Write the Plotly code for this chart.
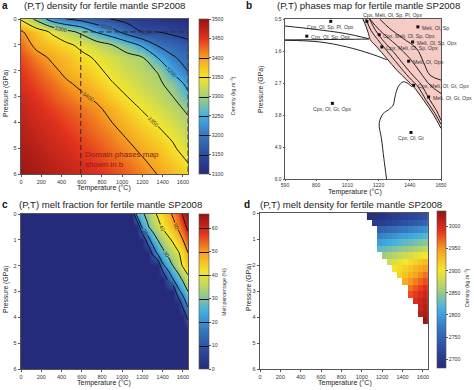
import plotly.graph_objects as go

W, H = 474, 390

# ---------------- DATA ----------------
# Panel a: bulk density (kg/m3) on a (P,T) grid
T_a = [0, 150, 300, 450, 600, 750, 900, 1050, 1200, 1350, 1500, 1650]
P_a = [0, 0.5, 1, 1.5, 2, 2.5, 3, 3.5, 4, 4.5, 5, 5.5, 6]
rho_a = [
    [3345, 3290, 3230, 3200, 3185, 3165, 3148, 3135, 3125, 3115, 3108, 3102],
    [3405, 3375, 3345, 3315, 3290, 3245, 3220, 3180, 3150, 3150, 3140, 3130],
    [3425, 3390, 3375, 3358, 3340, 3320, 3300, 3275, 3240, 3195, 3180, 3165],
    [3440, 3415, 3395, 3380, 3360, 3345, 3330, 3315, 3303, 3250, 3205, 3185],
    [3450, 3430, 3410, 3390, 3375, 3357, 3340, 3325, 3312, 3298, 3240, 3198],
    [3455, 3440, 3425, 3405, 3392, 3372, 3352, 3338, 3322, 3308, 3285, 3235],
    [3465, 3450, 3435, 3420, 3405, 3393, 3368, 3350, 3335, 3318, 3300, 3262],
    [3470, 3458, 3445, 3432, 3420, 3406, 3390, 3365, 3348, 3332, 3315, 3293],
    [3475, 3465, 3455, 3442, 3430, 3416, 3400, 3382, 3362, 3346, 3328, 3308],
    [3480, 3470, 3460, 3450, 3438, 3425, 3412, 3396, 3378, 3360, 3343, 3318],
    [3485, 3477, 3467, 3458, 3447, 3435, 3422, 3408, 3392, 3375, 3356, 3330],
    [3490, 3482, 3473, 3465, 3455, 3444, 3432, 3420, 3404, 3388, 3370, 3348],
    [3495, 3488, 3480, 3472, 3463, 3452, 3442, 3430, 3415, 3399, 3382, 3362],
]
rho_a_levels = [3150, 3400, 50]
domain_T = [590, 1650]
domain_P = [0.5, 6.0]

# Panel b: phase boundaries (T in C, P in GPa)
solidus_T = [1119, 1140, 1157, 1169, 1214, 1282, 1350, 1418, 1464, 1532, 1600, 1650]
solidus_P = [0.5, 0.75, 1.0, 1.21, 1.46, 1.86, 2.26, 2.60, 2.83, 3.29, 3.80, 4.26]
plag_T = [590, 800, 1000, 1160]
plag_P = [0.74, 0.86, 1.0, 1.18]
spl_T = [590, 800, 1000, 1160]
spl_P = [1.22, 1.21, 1.20, 1.19]
spgt_T = [590, 828, 1010, 1169, 1282]
spgt_P = [1.23, 1.29, 1.46, 1.69, 1.90]
melt2_T = [1140, 1175, 1220, 1300, 1380, 1450, 1490, 1550, 1610, 1650]
melt2_P = [0.5, 0.9, 1.21, 1.7, 2.2, 2.6, 2.8, 3.3, 3.75, 4.12]
melt3_T = [1165, 1200, 1250, 1330, 1410, 1470, 1515, 1570, 1620, 1650]
melt3_P = [0.5, 0.85, 1.2, 1.65, 2.15, 2.5, 2.75, 3.25, 3.65, 3.98]
cpxout_T = [1166, 1234, 1348, 1439, 1507, 1575, 1650]
cpxout_P = [0.5, 0.89, 1.40, 1.86, 2.32, 2.77, 3.06]
opxout_T = [1234, 1302, 1393, 1485, 1530, 1575, 1650]
opxout_P = [0.5, 0.83, 1.17, 1.52, 1.97, 2.43, 2.60]
gtin_T = [1280, 1262, 1245, 1230, 1257, 1291, 1325, 1337, 1359, 1393, 1427, 1450]
gtin_P = [6.0, 5.3, 4.6, 4.09, 3.75, 3.63, 3.46, 3.18, 2.83, 2.66, 2.72, 2.83]
phase_names = ["Cpx, Ol, Sp, Pl, Opx", "Cpx, Ol, Sp, Opx", "Cpx, Ol, Gt, Opx", "Cpx, Ol, Gt",
               "Cpx, Melt, Ol, Sp, Pl, Opx", "Melt, Ol, Sp", "Cpx, Melt, Ol, Sp, Opx",
               "Melt, Ol, Sp, Opx", "Cpx, Melt, Ol, Sp, Opx", "Melt, Ol, Opx",
               "Cpx, Melt, Ol, Gt, Opx", "Melt, Ol, Gt, Opx"]
phase_T = [901, 738, 912, 1446, 1146, 1493, 1230, 1457, 1248, 1430, 1464, 1566]
phase_P = [0.58, 1.09, 3.40, 4.40, 0.58, 0.77, 1.04, 1.29, 1.46, 1.95, 2.78, 3.18]

# Panel c: melt fraction (%)
T_c = [0, 1000, 1050, 1100, 1150, 1200, 1250, 1300, 1350, 1400, 1450, 1500, 1550, 1600, 1650]
P_c = [0, 0.5, 1, 1.5, 2, 2.5, 3, 3.5, 4, 4.5, 5, 5.5, 6]
melt_c = [
    [0, 0, 0, 0, 26, 29, 32, 37, 41, 44, 47, 51, 55, 61, 66],
    [0, 0, 0, 0, 0, 22, 29, 33, 37, 41, 44, 47, 51, 56, 62],
    [0, 0, 0, 0, 0, 0, 15, 25, 30, 34, 38, 41, 45, 50, 56],
    [0, 0, 0, 0, 0, 0, 0, 12, 22, 28, 32, 36, 39, 43, 50],
    [0, 0, 0, 0, 0, 0, 0, 0, 0, 18, 24, 30, 35, 41, 45],
    [0, 0, 0, 0, 0, 0, 0, 0, 0, 0, 12, 20, 26, 32, 38],
    [0, 0, 0, 0, 0, 0, 0, 0, 0, 0, 0, 0, 17, 23, 30],
    [0, 0, 0, 0, 0, 0, 0, 0, 0, 0, 0, 0, 0, 14, 22],
    [0, 0, 0, 0, 0, 0, 0, 0, 0, 0, 0, 0, 0, 0, 13],
    [0, 0, 0, 0, 0, 0, 0, 0, 0, 0, 0, 0, 0, 0, 0],
    [0, 0, 0, 0, 0, 0, 0, 0, 0, 0, 0, 0, 0, 0, 0],
    [0, 0, 0, 0, 0, 0, 0, 0, 0, 0, 0, 0, 0, 0, 0],
    [0, 0, 0, 0, 0, 0, 0, 0, 0, 0, 0, 0, 0, 0, 0],
]
melt_levels = [10, 60, 10]

# Panel d: melt density (kg/m3), None where no melt
T_d = [1075, 1125, 1175, 1225, 1275, 1325, 1375, 1425, 1475, 1525, 1575, 1625]
P_d = [0.125, 0.375, 0.625, 0.875, 1.125, 1.375, 1.625, 1.875, 2.125, 2.375,
       2.625, 2.875, 3.125, 3.375, 3.625, 3.875, 4.125]
N = None
rho_d = [
    [2685, 2688, 2692, 2696, 2700, 2704, 2708, 2712, 2716, 2720, 2724, 2728],
    [N, 2700, 2705, 2710, 2715, 2720, 2725, 2730, 2735, 2740, 2745, 2750],
    [N, N, 2745, 2750, 2755, 2760, 2765, 2770, 2775, 2780, 2785, 2790],
    [N, N, 2775, 2780, 2785, 2790, 2795, 2800, 2805, 2810, 2815, 2820],
    [N, N, 2800, 2805, 2810, 2815, 2820, 2825, 2830, 2835, 2840, 2845],
    [N, N, 2825, 2830, 2835, 2840, 2845, 2850, 2855, 2860, 2865, 2870],
    [N, N, N, 2855, 2860, 2866, 2872, 2878, 2884, 2890, 2896, 2902],
    [N, N, N, N, 2880, 2887, 2894, 2901, 2908, 2915, 2922, 2930],
    [N, N, N, N, N, 2900, 2908, 2916, 2924, 2932, 2940, 2948],
    [N, N, N, N, N, N, 2915, 2925, 2935, 2945, 2955, 2965],
    [N, N, N, N, N, N, N, 2940, 2950, 2960, 2970, 2980],
    [N, N, N, N, N, N, N, N, 2965, 2975, 2985, 2995],
    [N, N, N, N, N, N, N, N, 2980, 2988, 2996, 3004],
    [N, N, N, N, N, N, N, N, N, 2995, 3003, 3011],
    [N, N, N, N, N, N, N, N, N, N, 3008, 3016],
    [N, N, N, N, N, N, N, N, N, N, 3015, 3022],
    [N, N, N, N, N, N, N, N, N, N, N, 3030],
]

T_ticks = [0, 200, 400, 600, 800, 1000, 1200, 1400, 1600]
P_ticks = [0, 1, 2, 3, 4, 5, 6]
b_T_ticks = [590, 802, 1014, 1226, 1438, 1650]
b_T_text = ["590", "800", "1010", "1220", "1440", "1650"]
b_P_ticks = [0.5, 1.6, 2.7, 3.8, 4.9, 6.0]
b_P_text = ["0.5", "1.6", "2.7", "3.8", "4.9", "6.0"]

# ---------------- STYLE ----------------
CS = [[0.0, "#262a7a"], [0.125, "#2d4b9f"], [0.25, "#3677bf"], [0.375, "#43b0e2"],
      [0.5, "#a8cf78"], [0.625, "#f4e62a"], [0.75, "#f7a11f"], [0.875, "#e2321e"],
      [1.0, "#931313"]]
FT = "Liberation Sans, Arial, sans-serif"


def xd(a, b):
    return [a / W, b / W]


def yd(top, bot):
    return [1 - bot / H, 1 - top / H]


def cbar(x0, top, bot, tickvals, thick=10):
    return dict(
        x=x0 / W, xanchor="left", xpad=0, ypad=0,
        y=1 - bot / H, yanchor="bottom", len=(bot - top) / H, lenmode="fraction",
        thickness=thick, thicknessmode="pixels", outlinewidth=0.6, outlinecolor="#555",
        tickvals=tickvals, ticks="outside", ticklen=2, tickcolor="#555",
        tickfont=dict(family=FT, size=5.2, color="#333"),
    )


fig = go.Figure()

# Panel a
fig.add_trace(go.Contour(
    x=T_a, y=P_a, z=rho_a, colorscale=CS, zmin=3100, zmax=3500,
    contours=dict(coloring="heatmap", start=rho_a_levels[0], end=rho_a_levels[1],
                  size=rho_a_levels[2], showlabels=True,
                  labelfont=dict(family=FT, size=5.5, color="#333")),
    line=dict(color="#111", width=1),
    colorbar=cbar(199, 19, 174, list(range(3100, 3501, 50))),
    xaxis="x", yaxis="y", hoverinfo="skip"))
fig.add_trace(go.Scatter(
    x=[domain_T[0], domain_T[0], domain_T[1], domain_T[1]],
    y=[domain_P[1], domain_P[0], domain_P[0], domain_P[1]],
    mode="lines", line=dict(color="#3a2a2a", width=1, dash="5px,3px"),
    xaxis="x", yaxis="y", showlegend=False, hoverinfo="skip"))

# Panel b
fig.add_trace(go.Scatter(
    x=solidus_T + [domain_T[1], domain_T[1]],
    y=solidus_P + [domain_P[0], domain_P[0]],
    fill="toself", fillcolor="#f6cbc6", mode="none",
    xaxis="x2", yaxis="y2", showlegend=False, hoverinfo="skip"))
for tx, py in [(solidus_T, solidus_P), (plag_T, plag_P), (spl_T, spl_P), (spgt_T, spgt_P),
               (melt2_T, melt2_P), (melt3_T, melt3_P), (cpxout_T, cpxout_P),
               (opxout_T, opxout_P), (gtin_T, gtin_P)]:
    fig.add_trace(go.Scatter(x=tx, y=py, mode="lines", line=dict(color="#222", width=1, shape="spline"),
                             xaxis="x2", yaxis="y2", showlegend=False, hoverinfo="skip"))
fig.add_trace(go.Scatter(x=phase_T, y=phase_P, mode="markers",
                         marker=dict(symbol="square", size=3, color="#111"),
                         xaxis="x2", yaxis="y2", showlegend=False, hoverinfo="skip"))

# Panel c
fig.add_trace(go.Contour(
    x=T_c, y=P_c, z=melt_c, colorscale=CS, zmin=0, zmax=66,
    contours=dict(coloring="heatmap", start=melt_levels[0], end=melt_levels[1],
                  size=melt_levels[2], showlabels=True,
                  labelfont=dict(family=FT, size=5.5, color="#333")),
    line=dict(color="#111", width=1),
    colorbar=cbar(199, 214, 369, list(range(0, 61, 10))),
    xaxis="x3", yaxis="y3", hoverinfo="skip"))

# Panel d
fig.add_trace(go.Heatmap(
    x=T_d, y=P_d, z=rho_d, colorscale=CS, zmin=2680, zmax=3035,
    colorbar=cbar(437, 211, 368, list(range(2700, 3001, 50)), thick=9),
    xaxis="x4", yaxis="y4", hoverinfo="skip"))


def ax(dom, anchor, rng, tv, tt=None, fs=5.5, tl=2.5):
    d = dict(domain=dom, anchor=anchor, range=rng, tickvals=tv, automargin=False,
             showline=True, mirror=True, linecolor="#555", linewidth=0.8,
             ticks="outside", ticklen=tl, tickcolor="#555", showgrid=False, zeroline=False,
             tickfont=dict(family=FT, size=fs, color="#333"))
    if tt:
        d["ticktext"] = tt
    return d


fig.update_layout(
    width=W, height=H, margin=dict(l=0, r=0, t=0, b=0, autoexpand=False),
    paper_bgcolor="white", plot_bgcolor="white", showlegend=False,
    xaxis=ax(xd(21, 188), "y", [0, 1650], T_ticks),
    yaxis=ax(yd(19, 174), "x", [6, 0], P_ticks),
    xaxis2=ax(xd(285, 441), "y2", [590, 1650], b_T_ticks, b_T_text, fs=5, tl=1.5),
    yaxis2=ax(yd(19, 179), "x2", [6.0, 0.5], b_P_ticks, b_P_text, fs=5, tl=1.5),
    xaxis3=ax(xd(21, 188), "y3", [0, 1650], T_ticks),
    yaxis3=ax(yd(214, 369), "x3", [6, 0], P_ticks),
    xaxis4=ax(xd(260, 428), "y4", [0, 1650], T_ticks),
    yaxis4=ax(yd(213, 369), "x4", [6, 0], P_ticks),
)

ann = []


def paper_text(text, x, y, size, angle=0, color="#222", bold=False, anchor="center"):
    ann.append(dict(text=("<b>%s</b>" % text) if bold else text, xref="paper", yref="paper",
                    x=x / W, y=1 - y / H, xanchor=anchor, yanchor="middle", textangle=angle,
                    showarrow=False, font=dict(family=FT, size=size, color=color)))


titles = [("a", "(P,T) density for fertile mantle SP2008", 0, 104, 6),
          ("b", "(P,T) phases map for fertile mantle SP2008", 244, 368, 6),
          ("c", "(P,T) melt fraction for fertile mantle SP2008", 0, 110, 204),
          ("d", "(P,T) melt density for fertile mantle SP2008", 242, 351, 204)]
for letter, text, lx, cx, cy in titles:
    paper_text(letter, lx, cy, 10, color="#111", bold=True, anchor="left")
    paper_text(text, cx, cy, 9.6)

# axis titles
for cx, cy in [(104, 188), (355, 192), (104, 383), (345, 383)]:
    paper_text("Temperature (°C)", cx, cy, 7, color="#222")
for cx, cy in [(6, 94), (261, 90), (6, 290), (249, 288)]:
    paper_text("Pressure (GPa)", cx, cy, 6.8, angle=-90, color="#222")
# colorbar titles
paper_text("Density (kg.m<sup>−3</sup>)", 233, 96, 5.3, angle=-90, color="#333")
paper_text("Melt percentage (%)", 224, 292, 5.3, angle=-90, color="#333")
paper_text("Density (kg.m<sup>−3</sup>)", 467, 288, 5.3, angle=-90, color="#333")

ann.append(dict(text="Domain phases map<br>shown in b", xref="x", yref="y",
                x=domain_T[0] + 20, y=5.45, xanchor="left", yanchor="middle", align="left",
                showarrow=False, font=dict(family=FT, size=8, color="#8a1c1c")))
# phase labels in b
label_pos = ["below", "right", "below", "below", "top", "right", "right", "right",
             "right", "right", "right", "right"]
for name, t, p, pos in zip(phase_names, phase_T, phase_P, label_pos):
    if pos == "below":
        a = dict(x=t, y=p, xanchor="center", yanchor="top", yshift=-1)
    elif pos == "top":
        a = dict(x=(solidus_T[0] + domain_T[1]) / 2 - 60, y=domain_P[0], xanchor="center",
                 yanchor="bottom", yshift=-1)
    else:
        a = dict(x=t, y=p, xanchor="left", yanchor="middle", xshift=2, yshift=-1)
    a.update(text=name, xref="x2", yref="y2", showarrow=False,
             font=dict(family=FT, size=5.2, color="#333"))
    ann.append(a)
fig.update_layout(annotations=ann)

fig.write_html("out.html", config={"displayModeBar": False},
               post_script="document.body.style.margin='0';"
                           "document.body.style.padding='0';")
